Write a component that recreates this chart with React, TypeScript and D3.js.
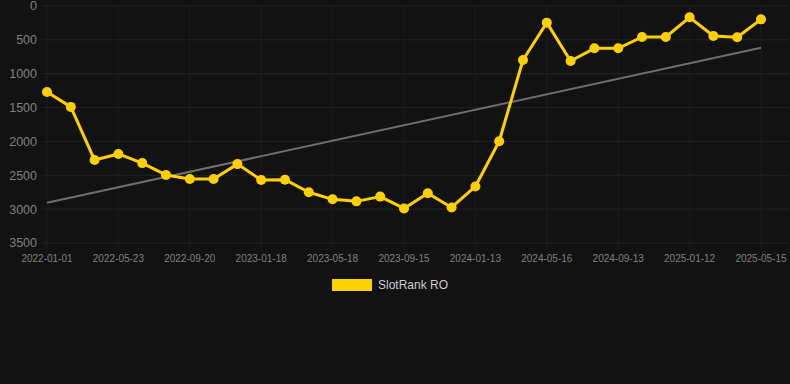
import React from "react";
import * as d3 from "d3";

const dates: string[] = [
  "2022-01-01", "2022-02-17", "2022-04-05",
  "2022-05-23", "2022-07-02", "2022-08-11",
  "2022-09-20", "2022-10-30", "2022-12-09",
  "2023-01-18", "2023-02-27", "2023-04-08",
  "2023-05-18", "2023-06-27", "2023-08-06",
  "2023-09-15", "2023-10-25", "2023-12-04",
  "2024-01-13", "2024-02-24", "2024-04-05",
  "2024-05-16", "2024-06-25", "2024-08-04",
  "2024-09-13", "2024-10-23", "2024-12-03",
  "2025-01-12", "2025-02-21", "2025-04-05",
  "2025-05-15",
];

const rankValues: number[] = [
  1270, 1490, 2275, 2185, 2320, 2495, 2555, 2555, 2335, 2570, 2565,
  2750, 2855, 2885, 2815, 2990, 2765, 2975, 2665, 1998, 797, 246,
  812, 625, 625, 458, 458, 167, 443, 462, 197,
];

const yTicks: number[] = [0, 500, 1000, 1500, 2000, 2500, 3000, 3500];
const xTickLabels: string[] = [
  "2022-01-01", "2022-05-23", "2022-09-20", "2023-01-18", "2023-05-18",
  "2023-09-15", "2024-01-13", "2024-05-16", "2024-09-13", "2025-01-12",
  "2025-05-15",
];
const seriesName = "SlotRank RO";

const W = 790;
const H = 384;
const LINE = "#FFD000";

export default function App() {
  const x = d3.scalePoint<string>().domain(dates).range([47, 761]);
  const y = d3.scaleLinear().domain([0, 3500]).range([6, 243]);

  // linear regression trend
  const n = rankValues.length;
  const xs = d3.range(n);
  const mx = d3.mean(xs)!;
  const my = d3.mean(rankValues)!;
  const slope =
    d3.sum(xs, (i) => (i - mx) * (rankValues[i] - my)) /
    d3.sum(xs, (i) => (i - mx) * (i - mx));
  const icpt = my - slope * mx;

  const line = d3
    .line<number>()
    .x((_, i) => x(dates[i])!)
    .y((d) => y(d));

  const left = 42;
  const right = 790;

  return (
    <svg
      width={W}
      height={H}
      style={{ position: "fixed", left: 0, top: 0, background: "#121212" }}
      fontFamily="Arial, 'Liberation Sans', sans-serif"
    >
      <rect width={W} height={H} fill="#121212" />
      {xTickLabels.map((d) => (
        <g key={d}>
          <line x1={x(d)} x2={x(d)} y1={y(0)} y2={y(3500) + 6} stroke="#1c1c1c" strokeWidth={1} />
          <text x={x(d)} y={262} textAnchor="middle" fontSize={10} fill="#808080">
            {d}
          </text>
        </g>
      ))}
      {yTicks.map((t) => (
        <g key={t}>
          <line x1={left} x2={right} y1={y(t)} y2={y(t)} stroke="#222222" strokeWidth={1} />
          <text x={37} y={y(t)} dy="0.35em" textAnchor="end" fontSize={12.5} fill="#808080">
            {t}
          </text>
        </g>
      ))}
      <line
        x1={x(dates[0])}
        x2={x(dates[n - 1])}
        y1={y(icpt)}
        y2={y(icpt + slope * (n - 1))}
        stroke="#6e6e6e"
        strokeWidth={2}
      />
      <path d={line(rankValues)!} fill="none" stroke={LINE} strokeWidth={3} strokeLinejoin="round" />
      {rankValues.map((v, i) => (
        <circle key={i} cx={x(dates[i])} cy={y(v)} r={5} fill={LINE} />
      ))}
      <rect x={332} y={279} width={40} height={12} fill={LINE} />
      <text x={378} y={285} dy="0.35em" fontSize={12} fill="#cccccc">
        {seriesName}
      </text>
    </svg>
  );
}
